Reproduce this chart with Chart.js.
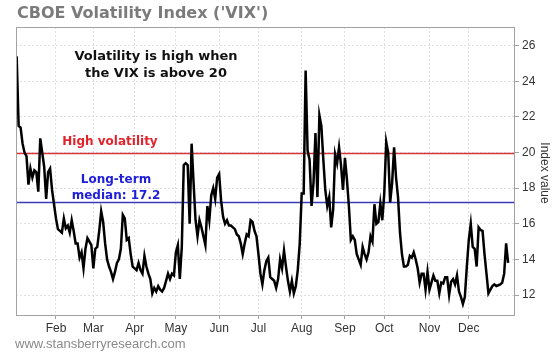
<!DOCTYPE html>
<html>
<head>
<meta charset="utf-8">
<script src="https://cdn.jsdelivr.net/npm/chart.js@4.4.1/dist/chart.umd.min.js"></script>
<style>
  html, body { margin: 0; padding: 0; background: #fff; }
  #wrap { width: 553px; height: 352px; }
</style>
</head>
<body>
<div id="wrap"><canvas id="vixChart" width="553" height="352"></canvas></div>
<script>
// CBOE VIX daily closes (x = trading day of the year)
const firstDay = 1;
const vixValues = [
  25.4, 21.5, 21.4, 20.5, 20.0, 19.8, 18.2, 19.1, 18.6, 19.0,
  18.9, 17.8, 20.8, 20.0, 19.2, 17.4, 18.9, 19.1, 17.9, 17.1,
  16.3, 15.7, 15.6, 15.5, 16.3, 15.75, 15.9, 15.5, 16.2, 15.6,
  14.9, 14.9, 14.1, 14.4, 13.5, 14.6, 15.2, 15.0, 14.8, 13.5,
  14.6, 14.7, 15.6, 16.7, 16.1, 14.9, 14.0, 13.6, 13.3, 12.9,
  13.3, 13.8, 14.0, 14.6, 16.5, 16.3, 15.1, 15.2, 14.3, 13.6,
  13.5, 13.4, 13.8, 13.4, 13.2, 14.2, 13.6, 13.2, 12.9, 12.1,
  12.4, 12.2, 12.5, 12.3, 12.2, 12.4, 12.8, 13.2, 12.9, 13.2,
  13.1, 14.4, 14.8, 12.9, 14.7, 19.3, 19.4, 19.3, 16.0, 20.5,
  18.3, 16.2, 15.3, 16.2, 15.8, 15.3, 14.8, 17.0, 16.2, 17.6,
  18.0, 17.4, 18.6, 18.8, 17.3, 16.4, 16.0, 16.2, 15.9, 15.9,
  15.8, 15.7, 15.4, 15.3, 14.9, 14.3, 14.9, 15.4, 15.3, 16.2,
  16.1, 15.6, 15.3, 14.3, 13.2, 12.6, 13.4, 13.9, 14.1, 13.0,
  12.9, 12.8, 12.4, 12.9, 14.0, 13.5, 14.5, 13.6, 12.8, 12.2,
  12.8, 12.1, 12.5, 13.4, 14.9, 17.7, 17.7, 24.6, 20.1, 19.6,
  17.0, 18.3, 21.1, 17.5, 22.1, 21.5, 19.6, 17.9, 17.0, 17.5,
  15.8, 16.8, 19.9, 19.4, 20.3, 19.3, 17.9, 19.7, 18.5, 17.0,
  15.1, 15.3, 15.1, 14.3, 14.0, 13.7, 14.7, 14.3, 14.0, 14.4,
  15.3, 15.0, 17.1, 16.0, 16.1, 17.15, 16.2, 17.7, 20.6, 20.0,
  17.2, 18.3, 20.3, 18.6, 17.5, 15.5, 14.3, 13.6, 13.6, 13.7,
  14.2, 14.1, 14.4, 14.0, 13.5, 12.7, 13.2, 13.2, 12.3, 13.3,
  12.3, 12.7, 13.1, 12.8, 12.8, 12.1, 12.7, 12.65, 13.0, 13.0,
  12.0, 12.75, 12.9, 12.6, 13.1, 12.2, 11.9, 11.5, 11.9, 13.6,
  15.1, 16.0, 14.7, 14.6, 13.6, 15.8, 15.65, 15.6, 14.3, 13.2,
  12.1, 12.3, 12.5, 12.6, 12.5, 12.55, 12.6, 12.7, 13.2, 14.9,
  13.8
];

// first trading day of each month
const monthTicks = [21, 40, 61, 82, 104, 124, 146, 168, 188, 211, 231];
const monthLabels = ['Feb', 'Mar', 'Apr', 'May', 'Jun', 'Jul', 'Aug', 'Sep', 'Oct', 'Nov', 'Dec'];
const yTicks = [12, 14, 16, 18, 20, 22, 24, 26];

const highLevel = 20;
const medianLevel = 17.2;

const overlay = {
  id: 'overlay',
  beforeDatasetsDraw(chart) {
    const { ctx, chartArea: a, scales: { y } } = chart;
    const hLine = (val, color) => {
      const py = Math.round(y.getPixelForValue(val)) + 0.5;
      ctx.save();
      ctx.strokeStyle = color;
      ctx.lineWidth = 1.5;
      ctx.beginPath();
      ctx.moveTo(a.left, py);
      ctx.lineTo(a.right, py);
      ctx.stroke();
      ctx.restore();
    };
    hLine(highLevel, '#d8353a');
    hLine(medianLevel, '#3b3bb8');
  },
  afterDraw(chart) {
    const { ctx, chartArea: a } = chart;
    ctx.save();
    // plot frame
    ctx.strokeStyle = '#a3a3a3';
    ctx.lineWidth = 1;
    ctx.strokeRect(Math.round(a.left) + 0.5, Math.round(a.top) + 0.5,
      Math.round(a.right - a.left), Math.round(a.bottom - a.top));

    ctx.textBaseline = 'middle';
    // title
    ctx.fillStyle = '#7b7b7b';
    ctx.font = 'bold 16px "DejaVu Sans", Verdana, sans-serif';
    ctx.textAlign = 'left';
    ctx.fillText("CBOE Volatility Index ('VIX')", 17, 14);

    // notes
    ctx.textAlign = 'center';
    ctx.fillStyle = '#111';
    ctx.font = 'bold 13px "DejaVu Sans", Verdana, sans-serif';
    ctx.fillText('Volatility is high when', 156, 57);
    ctx.fillText('the VIX is above 20', 156, 74);

    ctx.fillStyle = '#e3232b';
    ctx.font = 'bold 12px "DejaVu Sans", Verdana, sans-serif';
    ctx.fillText('High volatility', 110, 142);

    ctx.fillStyle = '#2020d8';
    ctx.fillText('Long-term', 116, 180);
    ctx.fillText('median: 17.2', 116, 196);

    // axis title
    ctx.save();
    ctx.translate(544, 173);
    ctx.rotate(Math.PI / 2);
    ctx.fillStyle = '#333';
    ctx.font = '12px "Liberation Sans", Arial, sans-serif';
    ctx.fillText('Index value', 0, 0);
    ctx.restore();

    // source
    ctx.textAlign = 'left';
    ctx.fillStyle = '#8a8a8a';
    ctx.font = '13px "Liberation Sans", Arial, sans-serif';
    ctx.fillText('www.stansberryresearch.com', 15, 344);
    ctx.restore();
  }
};

new Chart(document.getElementById('vixChart'), {
  type: 'line',
  data: {
    datasets: [{
      data: vixValues.map((v, i) => ({ x: firstDay + i, y: v })),
      borderColor: '#000',
      borderWidth: 2.5,
      pointRadius: 0,
      tension: 0,
      fill: false
    }]
  },
  options: {
    responsive: false,
    animation: false,
    devicePixelRatio: 1,
    layout: { padding: { left: 16, top: 27, right: 0, bottom: 0 } },
    plugins: { legend: { display: false }, tooltip: { enabled: false } },
    scales: {
      x: {
        type: 'linear',
        min: 0.66,
        max: 254,
        afterBuildTicks: s => { s.ticks = monthTicks.map(v => ({ value: v })); },
        afterFit: s => { s.height = 37; },
        grid: { color: '#e0e0e0', tickColor: '#a3a3a3', tickLength: 4, drawOnChartArea: true },
        border: { display: false, dash: [2, 2] },
        ticks: {
          autoSkip: false,
          maxRotation: 0,
          padding: 2,
          color: '#333',
          font: { family: '"Liberation Sans", Arial, sans-serif', size: 12 },
          callback: v => monthLabels[monthTicks.indexOf(v)]
        }
      },
      y: {
        position: 'right',
        min: 10.88,
        max: 27.05,
        afterBuildTicks: s => { s.ticks = yTicks.map(v => ({ value: v })); },
        afterFit: s => { s.width = 39; },
        grid: { color: '#e0e0e0', tickColor: '#a3a3a3', tickLength: 5 },
        border: { display: false, dash: [2, 2] },
        ticks: {
          padding: 3,
          color: '#333',
          font: { family: '"Liberation Sans", Arial, sans-serif', size: 12 }
        }
      }
    }
  },
  plugins: [overlay]
});
</script>
</body>
</html>
